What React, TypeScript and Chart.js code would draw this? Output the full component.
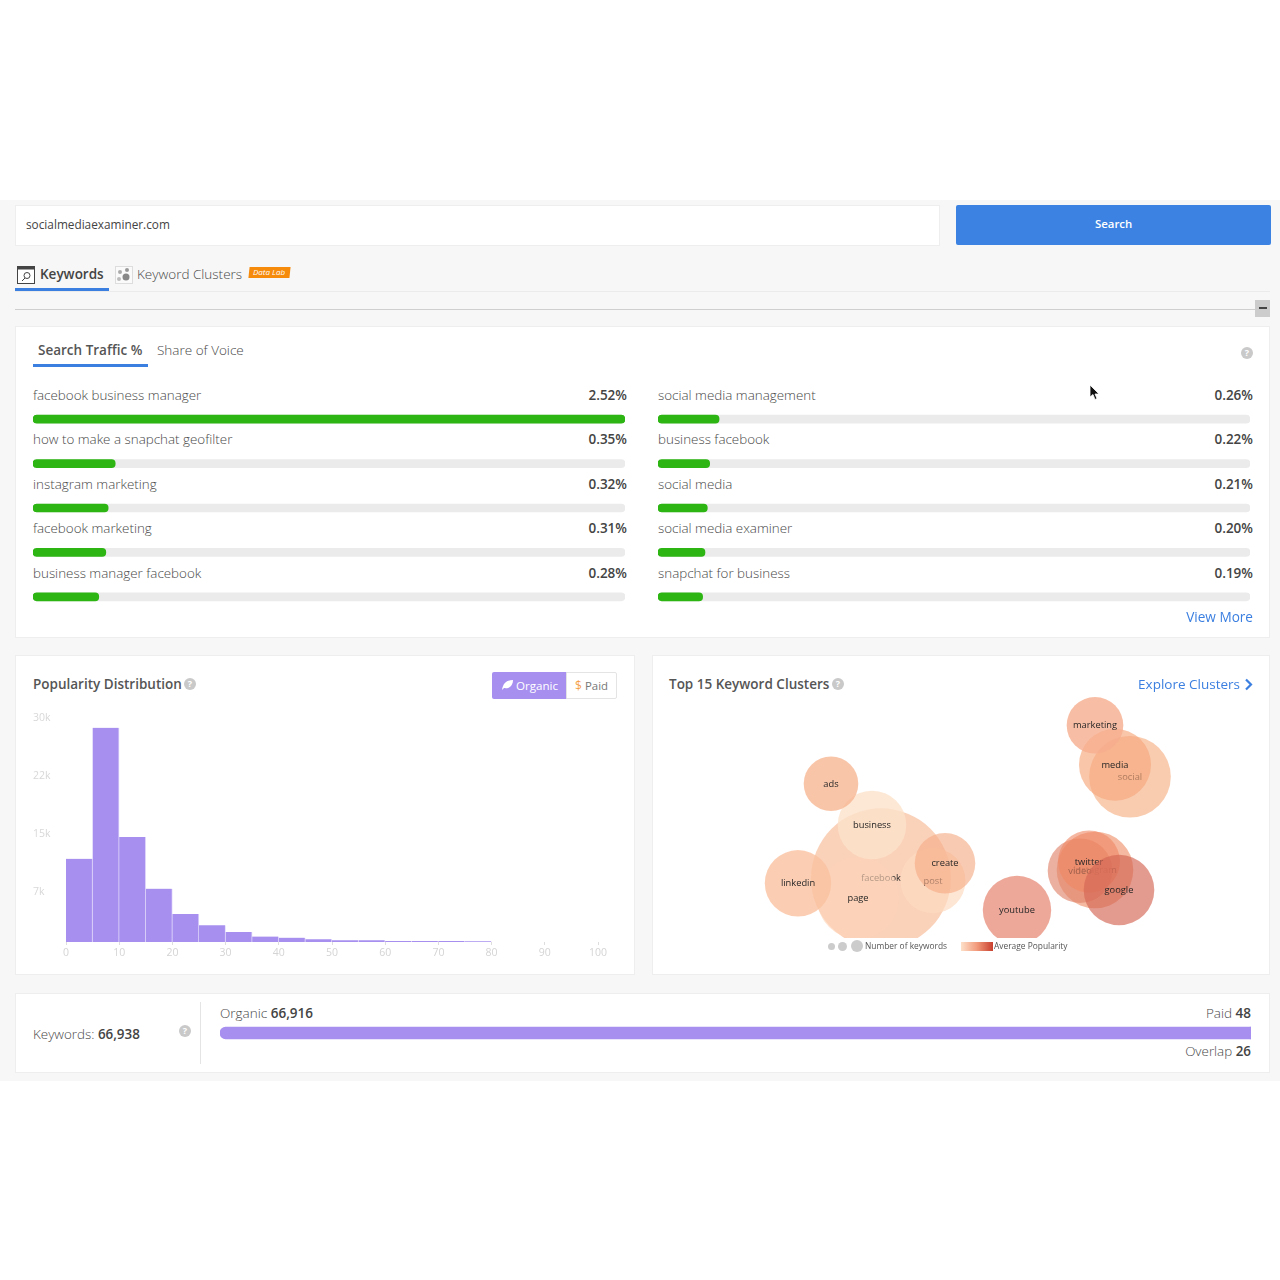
import React, { useEffect, useRef } from "react";
import { Chart, registerables } from "chart.js";

Chart.register(...registerables);

const leftKeywords = ["facebook business manager", "how to make a snapchat geofilter", "instagram marketing", "facebook marketing", "business manager facebook"];
const leftShares = [2.52, 0.35, 0.32, 0.31, 0.28];
const rightKeywords = ["social media management", "business facebook", "social media", "social media examiner", "snapchat for business"];
const rightShares = [0.26, 0.22, 0.21, 0.2, 0.19];
const shareMax = 2.52;

const histBinCenters = [2.5, 7.5, 12.5, 17.5, 22.5, 27.5, 32.5, 37.5, 42.5, 47.5, 52.5, 57.5, 62.5, 67.5, 72.5, 77.5];
const histCounts = [10720, 27620, 13550, 6880, 3600, 2170, 1300, 700, 560, 350, 220, 220, 135, 125, 115, 100];
const histYTicks = [0, 7500, 15000, 22500, 30000];
const histYLabels = ["", "7k", "15k", "22k", "30k"];

const clusterNames = ["facebook", "social", "page", "post", "business", "media", "marketing", "ads", "linkedin", "create", "youtube", "instagram", "video", "twitter", "google"];
const clusterX = [226, 475, 203, 278, 217, 460, 440, 176, 143, 290, 362, 440, 425, 434, 464];
const clusterY = [59.7, 161.3, 40, 57.3, 113, 173.3, 212.7, 154.3, 54.7, 74.7, 28, 68, 67.3, 76.5, 48];
const clusterSize = [70, 40.8, 41, 32.5, 34.3, 36, 28.3, 27.3, 33.2, 30.3, 34.2, 38.3, 32.3, 31, 35.3];
const clusterColor = [
  "rgba(249,198,168,0.8)", "rgba(247,190,155,0.8)", "rgba(253,212,184,0.65)", "rgba(254,219,194,0.7)", "rgba(253,226,202,0.8)",
  "rgba(246,168,124,0.65)", "rgba(246,174,142,0.8)", "rgba(247,182,148,0.8)", "rgba(250,194,160,0.8)", "rgba(246,174,137,0.65)",
  "rgba(227,121,100,0.65)", "rgba(238,147,109,0.65)", "rgba(224,134,109,0.65)", "rgba(240,135,100,0.6)", "rgba(212,101,83,0.65)",
];

const organicCount = [66916];
const paidCount = [48];

const FONT = '"Open Sans", sans-serif';
const TEXT = "#484848";
const BLUE = "#3b7fe0";
const PURPLE = "#a78ff0";

function useChart(ref: React.RefObject<HTMLCanvasElement | null>, make: (c: HTMLCanvasElement) => Chart) {
  useEffect(() => {
    if (!ref.current) return;
    const chart = make(ref.current);
    return () => chart.destroy();
  }, []);
}

function ShareBars({ left, keywords, shares }: { left: number; keywords: string[]; shares: number[] }) {
  const ref = useRef<HTMLCanvasElement>(null);
  useChart(ref, (c) =>
    new Chart(c, {
      type: "bar",
      data: {
        labels: keywords,
        datasets: [
          { data: shares, backgroundColor: "#2db513", borderRadius: 4, borderSkipped: false, barThickness: 8, order: 1 },
          { data: shares.map(() => shareMax), backgroundColor: "#ebebeb", borderRadius: 4, borderSkipped: false, barThickness: 8, order: 2 },
        ],
      },
      options: {
        indexAxis: "y",
        animation: false,
        responsive: false,
        events: [],
        layout: { padding: 0, autoPadding: false },
        plugins: { legend: { display: false }, tooltip: { enabled: false } },
        datasets: { bar: { grouped: false } },
        scales: {
          x: { display: false, min: 0, max: shareMax },
          y: { display: false },
        },
      } as any,
    })
  );
  return <canvas ref={ref} width={592} height={222} style={{ position: "absolute", left, top: 397 }} />;
}

function Histogram() {
  const ref = useRef<HTMLCanvasElement>(null);
  useChart(ref, (c) =>
    new Chart(c, {
      type: "bar",
      data: {
        datasets: [
          {
            data: histBinCenters.map((x, i) => ({ x, y: histCounts[i] })),
            backgroundColor: PURPLE,
            borderColor: "#e6dffb",
            borderWidth: { left: 0, right: 1, top: 0, bottom: 0 },
            barPercentage: 1,
            categoryPercentage: 1,
          },
        ],
      },
      options: {
        animation: false,
        responsive: false,
        events: [],
        layout: { padding: { left: 18, top: 7, right: 36, bottom: 0 }, autoPadding: false },
        plugins: { legend: { display: false }, tooltip: { enabled: false } },
        scales: {
          x: {
            type: "linear",
            offset: false,
            min: 0,
            max: 100,
            afterFit: (s: any) => { s.height = 23; },
            border: { display: false },
            grid: { drawOnChartArea: false, drawTicks: true, tickLength: 3, color: "#dddddd", offset: false },
            ticks: { stepSize: 10, color: "#d4d4d4", font: { family: FONT, size: 10.5 }, padding: 2, maxRotation: 0, autoSkip: false },
          },
          y: {
            min: 0,
            max: 30000,
            afterFit: (s: any) => { s.width = 33; },
            afterBuildTicks: (s: any) => { s.ticks = histYTicks.map((value) => ({ value })); },
            border: { display: false },
            grid: { display: false },
            ticks: {
              autoSkip: false,
              crossAlign: "far",
              labelOffset: 8.3,
              color: "#d8d8d8",
              font: { family: FONT, size: 10.5 },
              callback: (_v: any, i: number) => histYLabels[i],
            },
          },
        },
      } as any,
    })
  );
  return <canvas ref={ref} width={619} height={265} style={{ position: "absolute", left: 15, top: 700 }} />;
}

const bubbleLabels = {
  id: "bubbleLabels",
  afterDatasetDraw(chart: any, args: any) {
    const el = args.meta.data[0];
    const ctx = chart.ctx;
    ctx.save();
    ctx.fillStyle = "#262626";
    ctx.font = `9.3px ${FONT}`;
    ctx.textAlign = "center";
    ctx.textBaseline = "middle";
    ctx.fillText(chart.data.datasets[args.index].label, el.x, el.y + 0.5);
    ctx.restore();
  },
};

function Clusters() {
  const ref = useRef<HTMLCanvasElement>(null);
  useChart(ref, (c) =>
    new Chart(c, {
      type: "bubble",
      data: {
        datasets: clusterNames.map((label, i) => ({
          label,
          data: [{ x: clusterX[i], y: clusterY[i], r: clusterSize[i] }],
          backgroundColor: clusterColor[i],
          borderWidth: 0,
          clip: 0,
          order: clusterNames.length - i,
        })),
      },
      options: {
        animation: false,
        responsive: false,
        events: [],
        layout: { padding: 0, autoPadding: false },
        plugins: { legend: { display: false }, tooltip: { enabled: false } },
        scales: {
          x: { display: false, min: 0, max: 615 },
          y: { display: false, min: 0, max: 248 },
        },
      } as any,
      plugins: [bubbleLabels],
    })
  );
  return <canvas ref={ref} width={615} height={248} style={{ position: "absolute", left: 655, top: 690 }} />;
}

function SplitBar() {
  const ref = useRef<HTMLCanvasElement>(null);
  useChart(ref, (c) =>
    new Chart(c, {
      type: "bar",
      data: {
        labels: ["Keywords"],
        datasets: [
          { data: organicCount, backgroundColor: PURPLE, barThickness: 12, stack: "a", borderRadius: { topLeft: 6, bottomLeft: 6 }, borderSkipped: false },
          { data: paidCount, backgroundColor: PURPLE, barThickness: 12, stack: "a", borderSkipped: false },
        ],
      },
      options: {
        indexAxis: "y",
        animation: false,
        responsive: false,
        events: [],
        layout: { padding: 0, autoPadding: false },
        plugins: { legend: { display: false }, tooltip: { enabled: false } },
        scales: {
          x: { display: false, stacked: true, min: 0, max: organicCount[0] + paidCount[0] },
          y: { display: false, stacked: true },
        },
      } as any,
    })
  );
  return <canvas ref={ref} width={1031} height={14} style={{ position: "absolute", left: 220, top: 1026 }} />;
}

function T({ x, y, right, size = 13.4, weight = 300, color = TEXT, children, style }: any) {
  const pos: any = right !== undefined ? { right: 1280 - right } : { left: x };
  return (
    <div
      style={{
        position: "absolute",
        ...pos,
        top: y,
        transform: "translateY(-50%)",
        fontFamily: FONT,
        fontSize: size,
        fontWeight: weight,
        color,
        whiteSpace: "nowrap",
        lineHeight: 1.2,
        ...style,
      }}
    >
      {children}
    </div>
  );
}

function Box({ x, y, w, h, bg = "#fff", border, style, children }: any) {
  return (
    <div
      style={{
        position: "absolute",
        left: x,
        top: y,
        width: w,
        height: h,
        background: bg,
        border,
        boxSizing: "border-box",
        ...style,
      }}
    >
      {children}
    </div>
  );
}

function Help({ cx, cy }: { cx: number; cy: number }) {
  return (
    <div
      style={{
        position: "absolute",
        left: cx - 6,
        top: cy - 6,
        width: 12,
        height: 12,
        borderRadius: 6,
        background: "#c9c9c9",
        color: "#fff",
        fontFamily: FONT,
        fontWeight: 700,
        fontSize: 9,
        lineHeight: "12px",
        textAlign: "center",
      }}
    >
      ?
    </div>
  );
}

const panel = "1px solid #eeeeee";
const bold = { fontWeight: 600, color: "#444" };

export default function App() {
  return (
    <div style={{ position: "absolute", left: 0, top: 0, width: 1280, height: 1280, background: "#fff", overflow: "hidden" }}>
      <Box x={0} y={200} w={1280} h={881} bg="#f7f7f7" />

      {/* search */}
      <Box x={15} y={205} w={925} h={41} border={panel} />
      <T x={26} y={224} size={11.8} weight={400} color="#444">socialmediaexaminer.com</T>
      <Box x={956} y={205} w={315} h={40} bg="#3b82e2" style={{ borderRadius: 2 }} />
      <T x={1095} y={223.5} size={11.4} weight={600} color="#fff">Search</T>

      {/* tabs */}
      <svg style={{ position: "absolute", left: 17, top: 266 }} width={18} height={18}>
        <rect x={0.5} y={0.5} width={17} height={17} fill="#fff" stroke="#444" />
        <rect x={0.5} y={0.5} width={17} height={3} fill="#444" />
        <circle cx={10} cy={9.5} r={3} fill="none" stroke="#444" />
        <line x1={8} y1={12} x2={5} y2={15} stroke="#444" />
      </svg>
      <T x={40} y={274} size={13.5} weight={600} color="#444">Keywords</T>
      <svg style={{ position: "absolute", left: 115, top: 266 }} width={18} height={18}>
        <rect x={0.5} y={0.5} width={17} height={17} fill="#fafafa" stroke="#ddd" />
        <circle cx={5} cy={6} r={2} fill="#aaa" />
        <circle cx={12} cy={4} r={2} fill="#999" />
        <circle cx={11} cy={11} r={3.5} fill="#888" />
        <circle cx={4} cy={13} r={2} fill="#bbb" />
      </svg>
      <T x={137} y={274} size={13.5}>Keyword Clusters</T>
      <Box x={249} y={267} w={41} h={11} bg="#f58a0b" style={{ transform: "skewX(-6deg)" }} />
      <T x={253} y={272} size={8} weight={400} color="#fff" style={{ fontStyle: "italic" }}>Data Lab</T>
      <Box x={15} y={291} w={1255} h={1} bg="#ebebeb" />
      <Box x={15} y={288} w={94} h={3} bg={BLUE} />
      <Box x={15} y={309} w={1240} h={1} bg="#cfcfcf" />
      <Box x={1255} y={300} w={15} h={17} bg="#cccccc" />
      <Box x={1259} y={307} w={8} h={2} bg="#444" />

      {/* keywords panel */}
      <Box x={15} y={326} w={1255} h={312} border={panel} />
      <T x={38} y={350} size={13.5} weight={600} color="#555">Search Traffic %</T>
      <T x={157} y={350} size={13.5}>Share of Voice</T>
      <Box x={33} y={364} w={115} h={2.5} bg={BLUE} />
      <Help cx={1247} cy={353} />
      {leftKeywords.map((k, i) => (
        <React.Fragment key={k}>
          <T x={33} y={394.7 + i * 44.5}>{k}</T>
          <T right={627} y={394.7 + i * 44.5} size={13.5} weight={600} color="#444">{leftShares[i].toFixed(2)}%</T>
        </React.Fragment>
      ))}
      {rightKeywords.map((k, i) => (
        <React.Fragment key={k}>
          <T x={658} y={394.7 + i * 44.5}>{k}</T>
          <T right={1253} y={394.7 + i * 44.5} size={13.5} weight={600} color="#444">{rightShares[i].toFixed(2)}%</T>
        </React.Fragment>
      ))}
      <ShareBars left={33} keywords={leftKeywords} shares={leftShares} />
      <ShareBars left={658} keywords={rightKeywords} shares={rightShares} />
      <T right={1253} y={616.5} size={13.6} weight={400} color={BLUE}>View More</T>
      <svg style={{ position: "absolute", left: 1089, top: 384 }} width={12} height={18}>
        <polygon points="1,1 1,13 4,10.5 6,15.5 8,14.5 6,10 10,10" fill="#111" stroke="#fff" strokeWidth={0.8} />
      </svg>

      {/* popularity panel */}
      <Box x={15} y={655} w={620} h={320} border={panel} />
      <T x={33} y={684} size={13.5} weight={600} color="#555">Popularity Distribution</T>
      <Help cx={190} cy={684} />
      <Box x={492} y={672} w={75} h={27} bg={PURPLE} style={{ borderRadius: "2px 0 0 2px" }} />
      <svg style={{ position: "absolute", left: 501, top: 679 }} width={13} height={12}>
        <path d="M1 11 C2 4 6 1 12 1 C12 6 9 10 3 9 Z" fill="#fff" />
      </svg>
      <T x={516} y={685.5} size={11.6} weight={400} color="#fff">Organic</T>
      <Box x={566} y={672} w={51} h={27} border="1px solid #e4e4e4" style={{ borderRadius: "0 2px 2px 0" }} />
      <T x={575} y={685.5} size={12} weight={400} color="#f5a14a">$</T>
      <T x={585} y={685.5} size={11.4} weight={400} color="#777">Paid</T>
      <Histogram />

      {/* clusters panel */}
      <Box x={652} y={655} w={618} h={320} border={panel} />
      <T x={669} y={684} size={13.5} weight={600} color="#555">Top 15 Keyword Clusters</T>
      <Help cx={838} cy={684} />
      <T right={1240} y={683.5} size={13.5} weight={400} color={BLUE}>Explore Clusters</T>
      <svg style={{ position: "absolute", left: 1244, top: 678 }} width={9} height={13}>
        <polyline points="2,1.5 7,6.5 2,11.5" fill="none" stroke={BLUE} strokeWidth={2.2} />
      </svg>
      <Clusters />
      <div style={{ position: "absolute", left: 827.5, top: 942.5, width: 7, height: 7, borderRadius: 4, background: "#ccc" }} />
      <div style={{ position: "absolute", left: 838, top: 941.5, width: 9, height: 9, borderRadius: 5, background: "#ccc" }} />
      <div style={{ position: "absolute", left: 850.5, top: 940, width: 12, height: 12, borderRadius: 6, background: "#ccc" }} />
      <T x={865} y={946} size={8.4} weight={400} color="#555">Number of keywords</T>
      <div style={{ position: "absolute", left: 961, top: 942, width: 32, height: 9, background: "linear-gradient(90deg,#fde0c9,#f29a7b,#c9402f)" }} />
      <T x={994} y={946} size={8.4} weight={400} color="#555">Average Popularity</T>

      {/* bottom panel */}
      <Box x={15} y={993} w={1255} h={80} border={panel} />
      <T x={33} y={1034} size={13.4}>Keywords: <b style={bold}>66,938</b></T>
      <Help cx={185} cy={1031} />
      <Box x={200} y={1002} w={1} h={62} bg="#e4e4e4" />
      <T x={220} y={1013} size={13.5}>Organic <b style={bold}>66,916</b></T>
      <T right={1251} y={1013} size={13.5}>Paid <b style={bold}>48</b></T>
      <SplitBar />
      <T right={1251} y={1051} size={13.4}>Overlap <b style={bold}>26</b></T>
    </div>
  );
}
